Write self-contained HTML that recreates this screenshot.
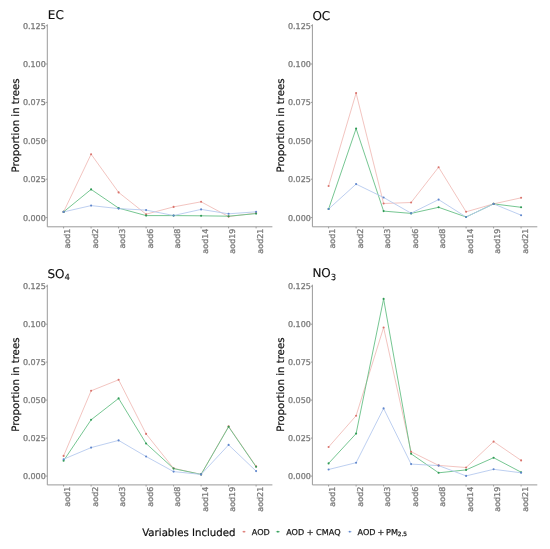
<!DOCTYPE html>
<html><head><meta charset="utf-8"><title>Proportion in trees</title>
<style>
html,body{margin:0;padding:0;background:#fff;}
body{width:550px;height:549px;overflow:hidden;}
svg{display:block;}
text{text-rendering:geometricPrecision;font-family:"DejaVu Sans","Liberation Sans",sans-serif;}
.tk{font-size:8px;fill:#7b7b7b;stroke:#7b7b7b;stroke-width:0.3px;}
.yl{font-size:10.2px;fill:#111;stroke:#111;stroke-width:0.2px;}
.ti{font-size:12px;fill:#111;stroke:#111;stroke-width:0.12px;}
.ax{stroke:#9a9a9a;stroke-width:1;fill:none;}
.lg{font-size:8.1px;fill:#222;stroke:#222;stroke-width:0.25px;}
.lt{font-size:10.2px;fill:#111;stroke:#111;stroke-width:0.2px;}
.ln{fill:none;stroke-width:0.9;stroke-linejoin:round;}
</style></head><body>
<svg width="550" height="549" viewBox="0 0 550 549">
<rect width="550" height="549" fill="#fff"/>
<g>

<g>
<text class="ti" x="47.8" y="19.3">EC</text>
<path class="ax" d="M47.3 24.3V226.8H272.4"/>
<path class="ax" d="M45.7 217.6H47.3"/>
<text class="tk" x="45.8" y="220.5" text-anchor="end">0.000</text>
<path class="ax" d="M45.7 179.2H47.3"/>
<text class="tk" x="45.8" y="182.1" text-anchor="end">0.025</text>
<path class="ax" d="M45.7 140.8H47.3"/>
<text class="tk" x="45.8" y="143.7" text-anchor="end">0.050</text>
<path class="ax" d="M45.7 102.4H47.3"/>
<text class="tk" x="45.8" y="105.3" text-anchor="end">0.075</text>
<path class="ax" d="M45.7 64.0H47.3"/>
<text class="tk" x="45.8" y="66.9" text-anchor="end">0.100</text>
<path class="ax" d="M45.7 25.7H47.3"/>
<text class="tk" x="45.8" y="28.6" text-anchor="end">0.125</text>
<path class="ax" d="M63.6 226.8V228.4"/>
<text class="tk" transform="translate(70.2,228.6) rotate(-90)" text-anchor="end" font-size="8.15">aod1</text>
<path class="ax" d="M91.1 226.8V228.4"/>
<text class="tk" transform="translate(97.7,228.6) rotate(-90)" text-anchor="end" font-size="8.15">aod2</text>
<path class="ax" d="M118.6 226.8V228.4"/>
<text class="tk" transform="translate(125.2,228.6) rotate(-90)" text-anchor="end" font-size="8.15">aod3</text>
<path class="ax" d="M146.1 226.8V228.4"/>
<text class="tk" transform="translate(152.7,228.6) rotate(-90)" text-anchor="end" font-size="8.15">aod6</text>
<path class="ax" d="M173.6 226.8V228.4"/>
<text class="tk" transform="translate(180.2,228.6) rotate(-90)" text-anchor="end" font-size="8.15">aod8</text>
<path class="ax" d="M201.1 226.8V228.4"/>
<text class="tk" transform="translate(207.7,228.6) rotate(-90)" text-anchor="end" font-size="8.15">aod14</text>
<path class="ax" d="M228.6 226.8V228.4"/>
<text class="tk" transform="translate(235.2,228.6) rotate(-90)" text-anchor="end" font-size="8.15">aod19</text>
<path class="ax" d="M256.1 226.8V228.4"/>
<text class="tk" transform="translate(262.7,228.6) rotate(-90)" text-anchor="end" font-size="8.15">aod21</text>
<text class="yl" transform="translate(18.8,125.4) rotate(-90)" text-anchor="middle">Proportion in trees</text>
<polyline class="ln" stroke="#F0BDB9" points="63.6,211.9 91.1,154.2 118.6,192.4 146.1,214.2 173.6,206.9 201.1,201.8 228.6,216.6 256.1,213.1"/>
<polyline class="ln" stroke="#66BF86" points="63.6,211.9 91.1,189.4 118.6,208.1 146.1,215.6 173.6,215.6 201.1,215.8 228.6,216.2 256.1,213.6"/>
<polyline class="ln" stroke="#B6C9EE" points="63.6,211.9 91.1,205.6 118.6,208.6 146.1,210.1 173.6,215.5 201.1,209.4 228.6,213.8 256.1,211.8"/>
<circle cx="63.6" cy="211.9" r="1.05" fill="#D9736C"/>
<circle cx="91.1" cy="154.2" r="1.05" fill="#D9736C"/>
<circle cx="118.6" cy="192.4" r="1.05" fill="#D9736C"/>
<circle cx="146.1" cy="214.2" r="1.05" fill="#D9736C"/>
<circle cx="173.6" cy="206.9" r="1.05" fill="#D9736C"/>
<circle cx="201.1" cy="201.8" r="1.05" fill="#D9736C"/>
<circle cx="228.6" cy="216.6" r="1.05" fill="#D9736C"/>
<circle cx="256.1" cy="213.1" r="1.05" fill="#D9736C"/>
<circle cx="63.6" cy="211.9" r="1.05" fill="#2F9A55"/>
<circle cx="91.1" cy="189.4" r="1.05" fill="#2F9A55"/>
<circle cx="118.6" cy="208.1" r="1.05" fill="#2F9A55"/>
<circle cx="146.1" cy="215.6" r="1.05" fill="#2F9A55"/>
<circle cx="173.6" cy="215.6" r="1.05" fill="#2F9A55"/>
<circle cx="201.1" cy="215.8" r="1.05" fill="#2F9A55"/>
<circle cx="228.6" cy="216.2" r="1.05" fill="#2F9A55"/>
<circle cx="256.1" cy="213.6" r="1.05" fill="#2F9A55"/>
<circle cx="63.6" cy="211.9" r="1.05" fill="#5F86CC"/>
<circle cx="91.1" cy="205.6" r="1.05" fill="#5F86CC"/>
<circle cx="118.6" cy="208.6" r="1.05" fill="#5F86CC"/>
<circle cx="146.1" cy="210.1" r="1.05" fill="#5F86CC"/>
<circle cx="173.6" cy="215.5" r="1.05" fill="#5F86CC"/>
<circle cx="201.1" cy="209.4" r="1.05" fill="#5F86CC"/>
<circle cx="228.6" cy="213.8" r="1.05" fill="#5F86CC"/>
<circle cx="256.1" cy="211.8" r="1.05" fill="#5F86CC"/>
</g>
<g>
<text class="ti" x="312.4" y="19.6">OC</text>
<path class="ax" d="M312.4 24.3V226.8H537.3"/>
<path class="ax" d="M310.8 217.6H312.4"/>
<text class="tk" x="310.9" y="220.5" text-anchor="end">0.000</text>
<path class="ax" d="M310.8 179.2H312.4"/>
<text class="tk" x="310.9" y="182.1" text-anchor="end">0.025</text>
<path class="ax" d="M310.8 140.8H312.4"/>
<text class="tk" x="310.9" y="143.7" text-anchor="end">0.050</text>
<path class="ax" d="M310.8 102.4H312.4"/>
<text class="tk" x="310.9" y="105.3" text-anchor="end">0.075</text>
<path class="ax" d="M310.8 64.0H312.4"/>
<text class="tk" x="310.9" y="66.9" text-anchor="end">0.100</text>
<path class="ax" d="M310.8 25.7H312.4"/>
<text class="tk" x="310.9" y="28.6" text-anchor="end">0.125</text>
<path class="ax" d="M328.6 226.8V228.4"/>
<text class="tk" transform="translate(335.2,228.6) rotate(-90)" text-anchor="end" font-size="8.15">aod1</text>
<path class="ax" d="M356.1 226.8V228.4"/>
<text class="tk" transform="translate(362.7,228.6) rotate(-90)" text-anchor="end" font-size="8.15">aod2</text>
<path class="ax" d="M383.6 226.8V228.4"/>
<text class="tk" transform="translate(390.2,228.6) rotate(-90)" text-anchor="end" font-size="8.15">aod3</text>
<path class="ax" d="M411.1 226.8V228.4"/>
<text class="tk" transform="translate(417.7,228.6) rotate(-90)" text-anchor="end" font-size="8.15">aod6</text>
<path class="ax" d="M438.6 226.8V228.4"/>
<text class="tk" transform="translate(445.2,228.6) rotate(-90)" text-anchor="end" font-size="8.15">aod8</text>
<path class="ax" d="M466.1 226.8V228.4"/>
<text class="tk" transform="translate(472.7,228.6) rotate(-90)" text-anchor="end" font-size="8.15">aod14</text>
<path class="ax" d="M493.6 226.8V228.4"/>
<text class="tk" transform="translate(500.2,228.6) rotate(-90)" text-anchor="end" font-size="8.15">aod19</text>
<path class="ax" d="M521.1 226.8V228.4"/>
<text class="tk" transform="translate(527.7,228.6) rotate(-90)" text-anchor="end" font-size="8.15">aod21</text>
<text class="yl" transform="translate(283.9,125.4) rotate(-90)" text-anchor="middle">Proportion in trees</text>
<polyline class="ln" stroke="#F0BDB9" points="328.6,186.0 356.1,93.1 383.6,203.5 411.1,202.5 438.6,167.2 466.1,211.8 493.6,203.9 521.1,197.8"/>
<polyline class="ln" stroke="#66BF86" points="328.6,209.0 356.1,128.6 383.6,211.1 411.1,213.4 438.6,207.3 466.1,217.0 493.6,203.9 521.1,207.3"/>
<polyline class="ln" stroke="#B6C9EE" points="328.6,209.0 356.1,184.1 383.6,197.5 411.1,213.2 438.6,199.6 466.1,217.0 493.6,203.9 521.1,215.2"/>
<circle cx="328.6" cy="186.0" r="1.05" fill="#D9736C"/>
<circle cx="356.1" cy="93.1" r="1.05" fill="#D9736C"/>
<circle cx="383.6" cy="203.5" r="1.05" fill="#D9736C"/>
<circle cx="411.1" cy="202.5" r="1.05" fill="#D9736C"/>
<circle cx="438.6" cy="167.2" r="1.05" fill="#D9736C"/>
<circle cx="466.1" cy="211.8" r="1.05" fill="#D9736C"/>
<circle cx="493.6" cy="203.9" r="1.05" fill="#D9736C"/>
<circle cx="521.1" cy="197.8" r="1.05" fill="#D9736C"/>
<circle cx="328.6" cy="209.0" r="1.05" fill="#2F9A55"/>
<circle cx="356.1" cy="128.6" r="1.05" fill="#2F9A55"/>
<circle cx="383.6" cy="211.1" r="1.05" fill="#2F9A55"/>
<circle cx="411.1" cy="213.4" r="1.05" fill="#2F9A55"/>
<circle cx="438.6" cy="207.3" r="1.05" fill="#2F9A55"/>
<circle cx="466.1" cy="217.0" r="1.05" fill="#2F9A55"/>
<circle cx="493.6" cy="203.9" r="1.05" fill="#2F9A55"/>
<circle cx="521.1" cy="207.3" r="1.05" fill="#2F9A55"/>
<circle cx="328.6" cy="209.0" r="1.05" fill="#5F86CC"/>
<circle cx="356.1" cy="184.1" r="1.05" fill="#5F86CC"/>
<circle cx="383.6" cy="197.5" r="1.05" fill="#5F86CC"/>
<circle cx="411.1" cy="213.2" r="1.05" fill="#5F86CC"/>
<circle cx="438.6" cy="199.6" r="1.05" fill="#5F86CC"/>
<circle cx="466.1" cy="217.0" r="1.05" fill="#5F86CC"/>
<circle cx="493.6" cy="203.9" r="1.05" fill="#5F86CC"/>
<circle cx="521.1" cy="215.2" r="1.05" fill="#5F86CC"/>
</g>
<g>
<text class="ti" x="47.5" y="277.9">SO<tspan font-size="8.5" dy="2.4">4</tspan></text>
<path class="ax" d="M47.3 284.7V484.9H272.4"/>
<path class="ax" d="M45.7 476.1H47.3"/>
<text class="tk" x="45.8" y="478.9" text-anchor="end">0.000</text>
<path class="ax" d="M45.7 438.1H47.3"/>
<text class="tk" x="45.8" y="441.0" text-anchor="end">0.025</text>
<path class="ax" d="M45.7 400.1H47.3"/>
<text class="tk" x="45.8" y="403.0" text-anchor="end">0.050</text>
<path class="ax" d="M45.7 362.1H47.3"/>
<text class="tk" x="45.8" y="365.0" text-anchor="end">0.075</text>
<path class="ax" d="M45.7 324.2H47.3"/>
<text class="tk" x="45.8" y="327.1" text-anchor="end">0.100</text>
<path class="ax" d="M45.7 286.2H47.3"/>
<text class="tk" x="45.8" y="289.1" text-anchor="end">0.125</text>
<path class="ax" d="M63.6 484.9V486.5"/>
<text class="tk" transform="translate(70.2,486.7) rotate(-90)" text-anchor="end" font-size="8.15">aod1</text>
<path class="ax" d="M91.1 484.9V486.5"/>
<text class="tk" transform="translate(97.7,486.7) rotate(-90)" text-anchor="end" font-size="8.15">aod2</text>
<path class="ax" d="M118.6 484.9V486.5"/>
<text class="tk" transform="translate(125.2,486.7) rotate(-90)" text-anchor="end" font-size="8.15">aod3</text>
<path class="ax" d="M146.1 484.9V486.5"/>
<text class="tk" transform="translate(152.7,486.7) rotate(-90)" text-anchor="end" font-size="8.15">aod6</text>
<path class="ax" d="M173.6 484.9V486.5"/>
<text class="tk" transform="translate(180.2,486.7) rotate(-90)" text-anchor="end" font-size="8.15">aod8</text>
<path class="ax" d="M201.1 484.9V486.5"/>
<text class="tk" transform="translate(207.7,486.7) rotate(-90)" text-anchor="end" font-size="8.15">aod14</text>
<path class="ax" d="M228.6 484.9V486.5"/>
<text class="tk" transform="translate(235.2,486.7) rotate(-90)" text-anchor="end" font-size="8.15">aod19</text>
<path class="ax" d="M256.1 484.9V486.5"/>
<text class="tk" transform="translate(262.7,486.7) rotate(-90)" text-anchor="end" font-size="8.15">aod21</text>
<text class="yl" transform="translate(18.8,384.6) rotate(-90)" text-anchor="middle">Proportion in trees</text>
<polyline class="ln" stroke="#F0BDB9" points="63.6,455.9 91.1,390.8 118.6,379.8 146.1,433.9 173.6,468.3 201.1,474.4 228.6,426.3 256.1,466.4"/>
<polyline class="ln" stroke="#66BF86" points="63.6,460.7 91.1,419.8 118.6,398.4 146.1,443.5 173.6,468.6 201.1,474.4 228.6,426.8 256.1,466.8"/>
<polyline class="ln" stroke="#B6C9EE" points="63.6,459.2 91.1,447.6 118.6,440.4 146.1,456.5 173.6,471.6 201.1,474.4 228.6,444.9 256.1,471.1"/>
<circle cx="63.6" cy="455.9" r="1.05" fill="#D9736C"/>
<circle cx="91.1" cy="390.8" r="1.05" fill="#D9736C"/>
<circle cx="118.6" cy="379.8" r="1.05" fill="#D9736C"/>
<circle cx="146.1" cy="433.9" r="1.05" fill="#D9736C"/>
<circle cx="173.6" cy="468.3" r="1.05" fill="#D9736C"/>
<circle cx="201.1" cy="474.4" r="1.05" fill="#D9736C"/>
<circle cx="228.6" cy="426.3" r="1.05" fill="#D9736C"/>
<circle cx="256.1" cy="466.4" r="1.05" fill="#D9736C"/>
<circle cx="63.6" cy="460.7" r="1.05" fill="#2F9A55"/>
<circle cx="91.1" cy="419.8" r="1.05" fill="#2F9A55"/>
<circle cx="118.6" cy="398.4" r="1.05" fill="#2F9A55"/>
<circle cx="146.1" cy="443.5" r="1.05" fill="#2F9A55"/>
<circle cx="173.6" cy="468.6" r="1.05" fill="#2F9A55"/>
<circle cx="201.1" cy="474.4" r="1.05" fill="#2F9A55"/>
<circle cx="228.6" cy="426.8" r="1.05" fill="#2F9A55"/>
<circle cx="256.1" cy="466.8" r="1.05" fill="#2F9A55"/>
<circle cx="63.6" cy="459.2" r="1.05" fill="#5F86CC"/>
<circle cx="91.1" cy="447.6" r="1.05" fill="#5F86CC"/>
<circle cx="118.6" cy="440.4" r="1.05" fill="#5F86CC"/>
<circle cx="146.1" cy="456.5" r="1.05" fill="#5F86CC"/>
<circle cx="173.6" cy="471.6" r="1.05" fill="#5F86CC"/>
<circle cx="201.1" cy="474.4" r="1.05" fill="#5F86CC"/>
<circle cx="228.6" cy="444.9" r="1.05" fill="#5F86CC"/>
<circle cx="256.1" cy="471.1" r="1.05" fill="#5F86CC"/>
</g>
<g>
<text class="ti" x="312.4" y="277.2">NO<tspan font-size="8.5" dy="2.4">3</tspan></text>
<path class="ax" d="M312.4 284.7V484.9H537.3"/>
<path class="ax" d="M310.8 476.1H312.4"/>
<text class="tk" x="310.9" y="478.9" text-anchor="end">0.000</text>
<path class="ax" d="M310.8 438.1H312.4"/>
<text class="tk" x="310.9" y="441.0" text-anchor="end">0.025</text>
<path class="ax" d="M310.8 400.1H312.4"/>
<text class="tk" x="310.9" y="403.0" text-anchor="end">0.050</text>
<path class="ax" d="M310.8 362.1H312.4"/>
<text class="tk" x="310.9" y="365.0" text-anchor="end">0.075</text>
<path class="ax" d="M310.8 324.2H312.4"/>
<text class="tk" x="310.9" y="327.1" text-anchor="end">0.100</text>
<path class="ax" d="M310.8 286.2H312.4"/>
<text class="tk" x="310.9" y="289.1" text-anchor="end">0.125</text>
<path class="ax" d="M328.6 484.9V486.5"/>
<text class="tk" transform="translate(335.2,486.7) rotate(-90)" text-anchor="end" font-size="8.15">aod1</text>
<path class="ax" d="M356.1 484.9V486.5"/>
<text class="tk" transform="translate(362.7,486.7) rotate(-90)" text-anchor="end" font-size="8.15">aod2</text>
<path class="ax" d="M383.6 484.9V486.5"/>
<text class="tk" transform="translate(390.2,486.7) rotate(-90)" text-anchor="end" font-size="8.15">aod3</text>
<path class="ax" d="M411.1 484.9V486.5"/>
<text class="tk" transform="translate(417.7,486.7) rotate(-90)" text-anchor="end" font-size="8.15">aod6</text>
<path class="ax" d="M438.6 484.9V486.5"/>
<text class="tk" transform="translate(445.2,486.7) rotate(-90)" text-anchor="end" font-size="8.15">aod8</text>
<path class="ax" d="M466.1 484.9V486.5"/>
<text class="tk" transform="translate(472.7,486.7) rotate(-90)" text-anchor="end" font-size="8.15">aod14</text>
<path class="ax" d="M493.6 484.9V486.5"/>
<text class="tk" transform="translate(500.2,486.7) rotate(-90)" text-anchor="end" font-size="8.15">aod19</text>
<path class="ax" d="M521.1 484.9V486.5"/>
<text class="tk" transform="translate(527.7,486.7) rotate(-90)" text-anchor="end" font-size="8.15">aod21</text>
<text class="yl" transform="translate(283.9,384.6) rotate(-90)" text-anchor="middle">Proportion in trees</text>
<polyline class="ln" stroke="#F0BDB9" points="328.6,447.0 356.1,415.7 383.6,327.5 411.1,451.7 438.6,465.4 466.1,467.5 493.6,441.6 521.1,460.4"/>
<polyline class="ln" stroke="#66BF86" points="328.6,463.4 356.1,433.6 383.6,298.9 411.1,453.8 438.6,472.8 466.1,469.9 493.6,457.7 521.1,472.2"/>
<polyline class="ln" stroke="#B6C9EE" points="328.6,469.5 356.1,462.7 383.6,408.4 411.1,464.1 438.6,465.6 466.1,475.9 493.6,469.3 521.1,472.8"/>
<circle cx="328.6" cy="447.0" r="1.05" fill="#D9736C"/>
<circle cx="356.1" cy="415.7" r="1.05" fill="#D9736C"/>
<circle cx="383.6" cy="327.5" r="1.05" fill="#D9736C"/>
<circle cx="411.1" cy="451.7" r="1.05" fill="#D9736C"/>
<circle cx="438.6" cy="465.4" r="1.05" fill="#D9736C"/>
<circle cx="466.1" cy="467.5" r="1.05" fill="#D9736C"/>
<circle cx="493.6" cy="441.6" r="1.05" fill="#D9736C"/>
<circle cx="521.1" cy="460.4" r="1.05" fill="#D9736C"/>
<circle cx="328.6" cy="463.4" r="1.05" fill="#2F9A55"/>
<circle cx="356.1" cy="433.6" r="1.05" fill="#2F9A55"/>
<circle cx="383.6" cy="298.9" r="1.05" fill="#2F9A55"/>
<circle cx="411.1" cy="453.8" r="1.05" fill="#2F9A55"/>
<circle cx="438.6" cy="472.8" r="1.05" fill="#2F9A55"/>
<circle cx="466.1" cy="469.9" r="1.05" fill="#2F9A55"/>
<circle cx="493.6" cy="457.7" r="1.05" fill="#2F9A55"/>
<circle cx="521.1" cy="472.2" r="1.05" fill="#2F9A55"/>
<circle cx="328.6" cy="469.5" r="1.05" fill="#5F86CC"/>
<circle cx="356.1" cy="462.7" r="1.05" fill="#5F86CC"/>
<circle cx="383.6" cy="408.4" r="1.05" fill="#5F86CC"/>
<circle cx="411.1" cy="464.1" r="1.05" fill="#5F86CC"/>
<circle cx="438.6" cy="465.6" r="1.05" fill="#5F86CC"/>
<circle cx="466.1" cy="475.9" r="1.05" fill="#5F86CC"/>
<circle cx="493.6" cy="469.3" r="1.05" fill="#5F86CC"/>
<circle cx="521.1" cy="472.8" r="1.05" fill="#5F86CC"/>
</g>
<text class="lt" x="142.2" y="535.9">Variables Included</text>
<path d="M242 531.7H246" stroke="#F0BDB9" stroke-width="0.8"/><circle cx="244" cy="531.7" r="0.9" fill="#D9736C"/>
<text class="lg" x="251.8" y="534.8">AOD</text>
<path d="M275.9 531.7H279.9" stroke="#66BF86" stroke-width="0.8"/><circle cx="277.9" cy="531.7" r="0.9" fill="#2F9A55"/>
<text class="lg" x="286.2" y="534.8">AOD + CMAQ</text>
<path d="M347.8 531.7H351.8" stroke="#B6C9EE" stroke-width="0.8"/><circle cx="349.8" cy="531.7" r="0.9" fill="#5F86CC"/>
<text class="lg" y="534.8"><tspan x="357.6">AOD</tspan><tspan x="377.4">+</tspan><tspan x="386.1">PM</tspan><tspan x="397.7" font-size="5.8" dy="1.5">2.5</tspan></text>
</g></svg>
</body></html>
